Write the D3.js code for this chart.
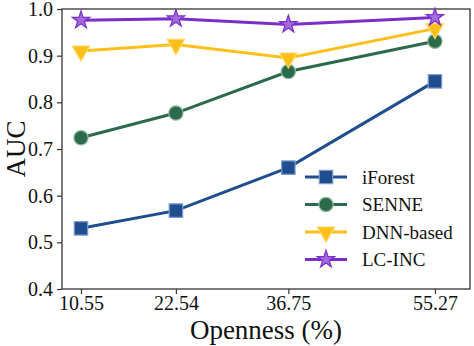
<!DOCTYPE html>
<html>
<head>
<meta charset="utf-8">
<script src="https://cdn.jsdelivr.net/npm/d3@7"></script>
<style>
  body { margin: 0; background: #fff; }
  text { font-family: "Liberation Serif", "Times New Roman", serif; fill: #111; }
</style>
</head>
<body>
<div id="container"></div>
<script>
// openness levels (x) and AUC per method
const openness = [10.55, 22.54, 36.75, 55.27];
const iForest = [0.530, 0.568, 0.660, 0.845];
const senne = [0.724, 0.777, 0.866, 0.931];
const dnnBased = [0.910, 0.924, 0.895, 0.958];
const lcInc = [0.976, 0.979, 0.967, 0.982];
const seriesNames = ['iForest', 'SENNE', 'DNN-based', 'LC-INC'];
const yTicks = [0.4, 0.5, 0.6, 0.7, 0.8, 0.9, 1.0];

const series = [
  { name: seriesNames[0], values: iForest, color: '#1f4e8f', edge: '#7d9ccb', symbol: d3.symbolSquare, size: 180, rot: 0 },
  { name: seriesNames[1], values: senne, color: '#2c6a4c', edge: '#8fb8a0', symbol: d3.symbolCircle, size: 160, rot: 0 },
  { name: seriesNames[2], values: dnnBased, color: '#ffbf1a', edge: '#ffd75e', symbol: d3.symbolTriangle, size: 130, rot: 180 },
  { name: seriesNames[3], values: lcInc, color: '#7a2fc8', edge: '#7a2fc8', fill: '#a46be0', symbol: d3.symbolStar, size: 95, rot: 0 }
];

const margin = { top: 9, right: 4, bottom: 57, left: 62 };
const width = 474 - margin.left - margin.right;
const height = 346 - margin.top - margin.bottom;

const svg = d3.select('#container')
  .append('svg')
  .attr('width', 474)
  .attr('height', 346);

const g = svg.append('g')
  .attr('transform', `translate(${margin.left},${margin.top})`);

const xScale = d3.scaleLinear().domain([8.15, 59.7]).range([0, width]);
const yScale = d3.scaleLinear().domain([0.4, 1.0]).range([height, 0]);

// axes
const xAxis = d3.axisBottom(xScale).tickValues(openness).tickFormat(d3.format('.2f')).tickSize(5).tickSizeOuter(0);
const yAxis = d3.axisLeft(yScale).tickValues(yTicks).tickFormat(d3.format('.1f')).tickSize(5).tickSizeOuter(0);

const gx = g.append('g').attr('transform', `translate(0,${height})`).call(xAxis);
const gy = g.append('g').call(yAxis);
[gx, gy].forEach(a => {
  a.attr('font-family', null);
  a.select('.domain').remove();
  a.selectAll('line').attr('stroke', '#333').attr('stroke-width', 1.2);
  a.selectAll('text').style('font-size', '20px').attr('fill', '#111');
});
gx.selectAll('text').attr('dy', '0.65em');
gy.selectAll('text').attr('dx', '-0.05em');

// frame
g.append('rect')
  .attr('width', width).attr('height', height)
  .attr('fill', 'none').attr('stroke', '#333').attr('stroke-width', 1.3);

// lines + markers
const line = d3.line().x((d, i) => xScale(openness[i])).y(d => yScale(d));

series.forEach(s => {
  g.append('path')
    .datum(s.values)
    .attr('d', line)
    .attr('fill', 'none')
    .attr('stroke', s.color)
    .attr('stroke-width', 3);
  g.selectAll(null)
    .data(s.values)
    .join('path')
    .attr('d', d3.symbol().type(s.symbol).size(s.size))
    .attr('transform', (d, i) => `translate(${xScale(openness[i])},${yScale(d)}) rotate(${s.rot})`)
    .attr('fill', s.fill || s.color)
    .attr('stroke', s.edge)
    .attr('stroke-width', 1.2);
});

// legend
const legend = g.append('g').attr('transform', 'translate(243,168)');
series.forEach((s, i) => {
  const row = legend.append('g').attr('transform', `translate(0,${i * 27.5})`);
  row.append('line').attr('x1', 0).attr('x2', 42).attr('stroke', s.color).attr('stroke-width', 3);
  row.append('path')
    .attr('d', d3.symbol().type(s.symbol).size(s.size))
    .attr('transform', `translate(21,0) rotate(${s.rot})`)
    .attr('fill', s.fill || s.color)
    .attr('stroke', s.edge)
    .attr('stroke-width', 1.2);
  row.append('text')
    .attr('x', 57).attr('y', 0).attr('dy', '0.35em')
    .style('font-size', '19px')
    .text(s.name);
});

// axis titles
svg.append('text')
  .attr('x', margin.left + width / 2).attr('y', 339)
  .attr('text-anchor', 'middle')
  .style('font-size', '27px')
  .text('Openness (%)');

svg.append('text')
  .attr('transform', `translate(25,${margin.top + height / 2}) rotate(-90)`)
  .attr('text-anchor', 'middle')
  .style('font-size', '27px')
  .text('AUC');
</script>
</body>
</html>
